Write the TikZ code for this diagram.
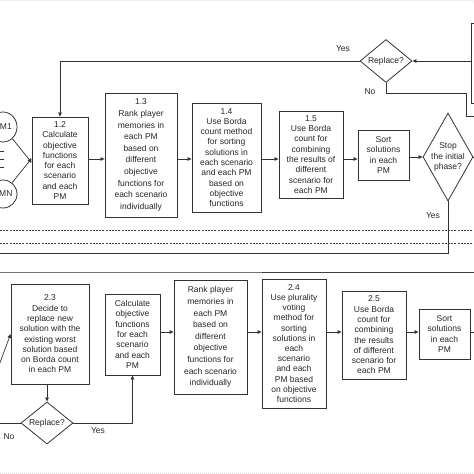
\documentclass[tikz,border=0pt]{standalone}
\usepackage{fontspec}
\setmainfont{Liberation Sans}
\usetikzlibrary{shapes.geometric,arrows.meta}
\newcommand{\flowfont}{\fontsize{8.5}{10.3}\selectfont}
\tikzset{
	box/.style={draw=black!80, line width=0.8pt, align=center, inner sep=0pt,
		text=black!85, font=\flowfont},
	tallbox/.style={box, font=\fontsize{8.5}{11.6}\selectfont},
	decision/.style={box, shape=diamond},
	pmnode/.style={box, ellipse, minimum width=28pt},
	link/.style={draw=black!80, line width=0.7pt},
	linkarr/.style={link, -{Triangle[length=4pt,width=3.5pt]}},
	lbl/.style={text=black!85, font=\flowfont, inner sep=0pt},
	sep/.style={draw=black!75, line width=0.6pt, dash pattern=on 2pt off 1.2pt},
}
\begin{document}
	\begin{tikzpicture}[x=1pt, y=-1pt]
	\useasboundingbox (0,0) rectangle (474,474);
	\clip (0,0) rectangle (474,474);
	% first phase
	\node[pmnode, minimum height=30pt] (pm1) at (3,127) {PM1};
	\node[pmnode, minimum height=28pt] (pmn) at (3,194) {PMN};
	\foreach \y in {151,159,167}
		\draw[link] (-1,\y) -- (4,\y);
	\node[box, minimum width=56pt, minimum height=87pt] (c12) at (60,160.5) {
		1.2\\ Calculate\\ objective\\ functions\\ for each\\ scenario\\ and each\\ PM
	};
	\node[tallbox, minimum width=72pt, minimum height=124pt] (c13) at (141,155) {
		1.3\\ Rank player\\ memories in\\ each PM\\ based on\\ different\\ objective\\ functions for\\ each scenario\\ individually
	};
	\node[box, minimum width=69pt, minimum height=109pt] (c14) at (226.5,157.5) {
		1.4\\ Use Borda\\ count method\\ for sorting\\ solutions in\\ each scenario\\ and each PM\\ based on\\ objective\\ functions
	};
	\node[box, minimum width=64pt, minimum height=87pt] (c15) at (311,154.5) {
		1.5\\ Use Borda\\ count for\\ combining\\ the results of\\ different\\ scenario for\\ each PM
	};
	\node[box, minimum width=51pt, minimum height=50pt] (sort1) at (383.5,155) {
		Sort\\ solutions\\ in each\\ PM
	};
	\node[decision, aspect=0.57, minimum width=50pt, minimum height=88pt] (stop) at (448,157) {
		Stop\\ the initial\\ phase?
	};
	\node[decision, aspect=1.2, minimum width=52pt, minimum height=43pt] (rep1) at (386,61) {Replace?};
	\node[box, minimum width=49pt, minimum height=80pt] (rbox) at (495.5,63) {};
	\coordinate (row1) at (0,159);
	\coordinate (no1) at (466,116);
	\coordinate (no2) at (480,116);
	\coordinate (stopno) at (480,157);
	\coordinate (ph2) at (-5,253);
	\draw[linkarr] (pm1) -- ([yshift=-2]c12.west);
	\draw[linkarr] (pmn) -- ([yshift=2]c12.west);
	\draw[linkarr] (c12.east |- row1) -- (c13.west |- row1);
	\draw[linkarr] (c13.east |- row1) -- (c14.west |- row1);
	\draw[linkarr] (c14.east |- row1) -- (c15.west |- row1);
	\draw[linkarr] (c15.east |- row1) -- (sort1.west |- row1);
	\draw[linkarr] (sort1.east |- stop.west) -- (stop.west);
	\draw[link] (stop.east) -- (stopno);
	\draw[linkarr] (rbox.west |- rep1.east) -- (rep1.east);
	\draw[linkarr] (rep1.west) -| (c12.north);
	\draw[link] (rep1.south) -- ++(0,10) -| (no1) -- (no2);
	\draw[link] (stop.south) |- (ph2);
	\node[lbl] at (343,49) {Yes};
	\node[lbl] at (370,92) {No};
	\node[lbl] at (433,216) {Yes};
	% phase borders
	\draw[draw=black!12, dash pattern=on 1pt off 1pt] (0,0.5) -- (474,0.5);
	\draw[sep] (0,230) -- (474,230);
	\draw[sep] (0,243) -- (474,243);
	\draw[draw=black!55, line width=0.9pt] (0,272) -- (262,272);
	\draw[draw=black!75, line width=0.9pt] (262,272) -- (474,272);
	\draw[draw=black!12, dash pattern=on 1pt off 1pt] (0,473.5) -- (474,473.5);
	% second phase
	\node[box, minimum width=78pt, minimum height=100pt] (c23) at (50,334) {
		2.3\\ Decide to\\ replace new\\ solution with the\\ existing worst\\ solution based\\ on Borda count\\ in each PM
	};
	\node[decision, aspect=1.2, minimum width=52pt, minimum height=42pt] (rep2) at (47,423) {Replace?};
	\node[box, minimum width=55pt, minimum height=81pt] (calc2) at (132.5,334.5) {
		Calculate\\ objective\\ functions\\ for each\\ scenario\\ and each\\ PM
	};
	\node[tallbox, minimum width=73pt, minimum height=114pt] (rank2) at (210.5,337) {
		Rank player\\ memories in\\ each PM\\ based on\\ different\\ objective\\ functions for\\ each scenario\\ individually
	};
	\node[box, font=\fontsize{8.5}{10.2}\selectfont, minimum width=64pt, minimum height=129pt] (c24) at (294,343.5) {
		2.4\\ Use plurality\\ voting\\ method for\\ sorting\\ solutions in\\ each\\ scenario\\ and each\\ PM based\\ on objective\\ functions
	};
	\node[box, minimum width=64pt, minimum height=88pt] (c25) at (374,335) {
		2.5\\ Use Borda\\ count for\\ combining\\ the results\\ of different\\ scenario for\\ each PM
	};
	\node[box, minimum width=51pt, minimum height=50pt] (sort2) at (444.5,334) {
		Sort\\ solutions\\ in each\\ PM
	};
	\coordinate (row2) at (0,332);
	\coordinate (in2) at (-2,368);
	\coordinate (no3) at (-5,423);
	\coordinate (out2) at (480,332);
	\draw[linkarr] (in2) -- (c23.west);
	\draw[linkarr] (c23.south -| rep2.north) -- (rep2.north);
	\draw[link] (rep2.west) -- (no3);
	\draw[linkarr] (rep2.east) -| (calc2.south);
	\draw[linkarr] (calc2.east |- row2) -- (rank2.west |- row2);
	\draw[linkarr] (rank2.east |- row2) -- (c24.west |- row2);
	\draw[linkarr] (c24.east |- row2) -- (c25.west |- row2);
	\draw[linkarr] (c25.east |- row2) -- (sort2.west |- row2);
	\draw[link] (sort2.east |- row2) -- (out2);
	\node[lbl] at (9,437) {No};
	\node[lbl] at (98,431) {Yes};
	\end{tikzpicture}
\end{document}
